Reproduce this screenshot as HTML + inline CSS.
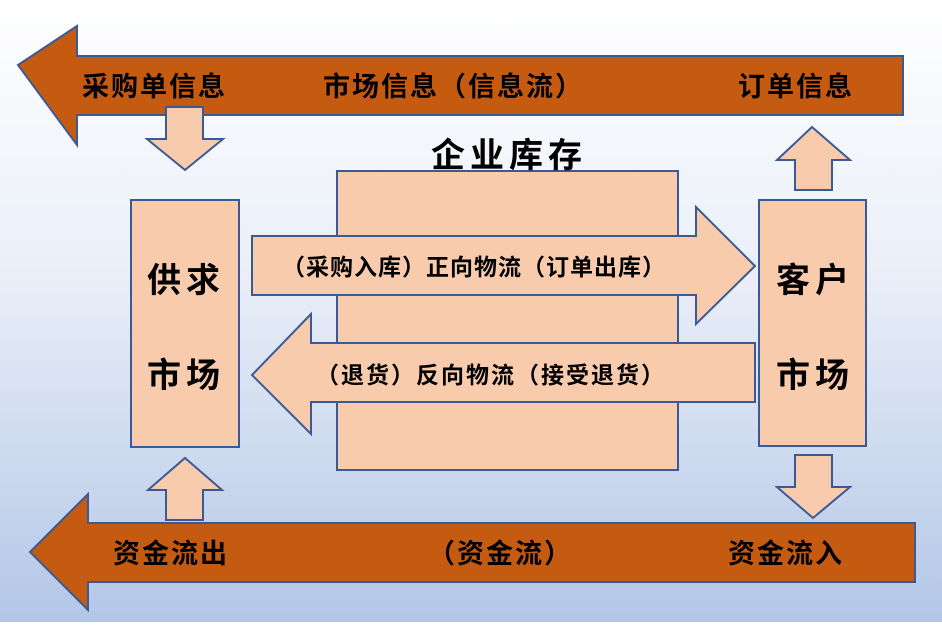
<!DOCTYPE html>
<html><head><meta charset="utf-8"><style>
html,body{margin:0;padding:0;}
body{width:942px;height:622px;overflow:hidden;}
text{font-family:"Liberation Sans","Noto Sans CJK SC","WenQuanYi Zen Hei",sans-serif;font-weight:bold;fill:#000;}
</style></head><body>
<svg width="942" height="622" viewBox="0 0 942 622" xmlns="http://www.w3.org/2000/svg">
<defs><linearGradient id="bg" x1="0" y1="0" x2="0" y2="1">
<stop offset="0" stop-color="#ffffff"/><stop offset="0.45" stop-color="#e9eef8"/><stop offset="1" stop-color="#b3c6e6"/></linearGradient></defs>
<rect width="942" height="622" fill="url(#bg)"/>
<g stroke="#3a5a96" stroke-width="2">
<!-- top arrow -->
<polygon points="18,65 77,26 77,56 903,56 903,115 77,115 77,145" fill="#c55a11"/>
<!-- bottom arrow -->
<polygon points="30,552 88,494 88,523 915,523 915,582 88,582 88,610" fill="#c55a11"/>
<g fill="#f8cbad">
<rect x="337" y="171" width="341" height="299"/>
<rect x="131" y="200" width="108" height="247"/>
<rect x="759" y="200" width="107" height="246"/>
<polygon points="166,107 203,107 203,139 223,139 185,170 147,139 166,139"/>
<polygon points="812,127 850,160 832,160 832,190 795,190 795,160 777,160"/>
<polygon points="795,455 832,455 832,487 850,487 813,518 777,487 795,487"/>
<polygon points="185,458 222,490 203,490 203,520 166,520 166,490 148,490"/>
<polygon points="252,236 696,236 696,207 755,266 696,324 696,295 252,295"/>
<polygon points="252,375 311,314 311,343 755,343 755,402 311,402 311,434"/>
</g></g>
<g font-size="27">
<text x="82" y="96" letter-spacing="2">采购单信息</text>
<text x="323" y="96" letter-spacing="2">市场信息（信息流）</text>
<text x="738" y="96" letter-spacing="2">订单信息</text>
<text x="113" y="563" letter-spacing="2">资金流出</text>
<text x="428" y="563" letter-spacing="2">（资金流）</text>
<text x="728" y="563" letter-spacing="2">资金流入</text>
</g>
<g font-size="23">
<text x="282" y="275" letter-spacing="1">（采购入库）正向物流（订单出库）</text>
<text x="316" y="383" letter-spacing="2">（退货）反向物流（接受退货）</text>
</g>
<text x="431" y="167" font-size="34" letter-spacing="5">企业库存</text>
<g font-size="34" letter-spacing="5">
<text x="147" y="292">供求</text>
<text x="147" y="387">市场</text>
<text x="776" y="292">客户</text>
<text x="776" y="387">市场</text>
</g>
</svg>
</body></html>
